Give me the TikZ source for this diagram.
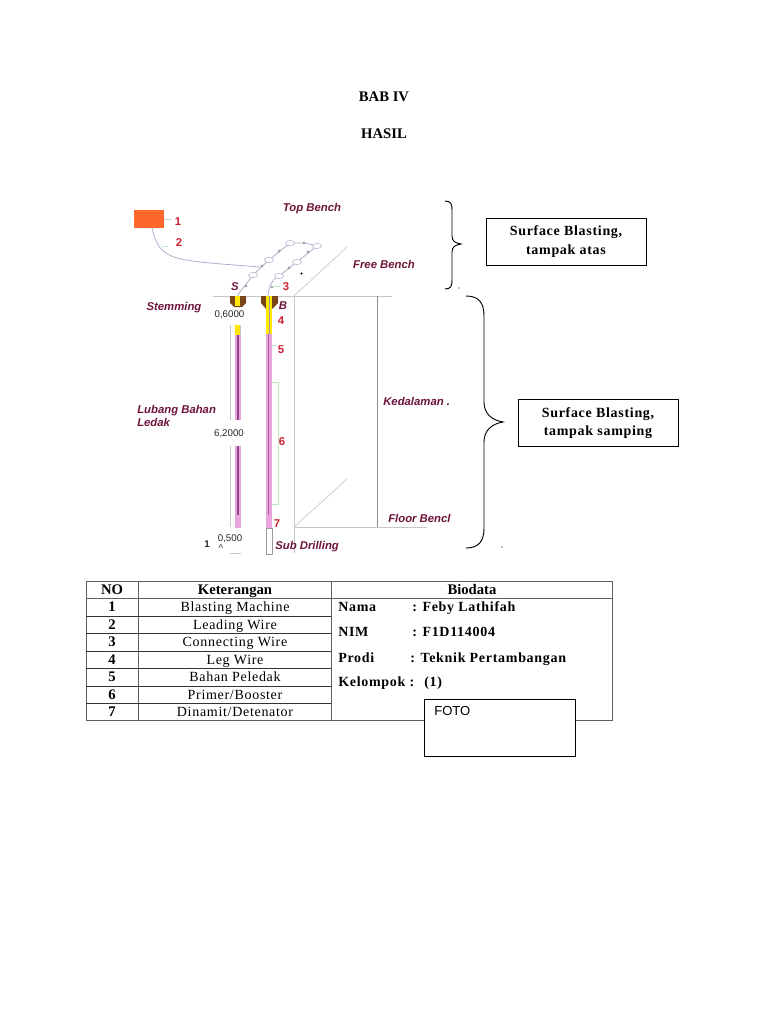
\documentclass[tikz,border=0pt]{standalone}
\usepackage{fontspec}
\setmainfont{Liberation Serif}
\setsansfont{Liberation Sans}
\newfontfamily\tblfont[LetterSpace=5]{Liberation Serif}
\usetikzlibrary{positioning}
\definecolor{maroon}{RGB}{110,20,60}
\definecolor{numred}{RGB}{205,30,50}
\definecolor{blast}{RGB}{255,102,43}
\definecolor{rock}{RGB}{120,70,25}
\definecolor{expl}{RGB}{232,165,222}
\definecolor{core}{RGB}{150,70,140}
\definecolor{wire}{RGB}{175,175,205}
\definecolor{leader}{RGB}{190,230,195}
\definecolor{rulegray}{RGB}{95,95,95}
\tikzstyle{title} = [font=\bfseries\fontsize{11}{12}\selectfont, text=black]
\tikzstyle{place} = [font=\sffamily\bfseries\itshape\fontsize{8.5}{10}\selectfont, text=maroon, align=left, yshift=-1.2pt]
\tikzstyle{num} = [font=\sffamily\bfseries\fontsize{8.5}{9}\selectfont, text=numred, inner sep=0pt, yshift=-0.7pt]
\tikzstyle{dim} = [font=\sffamily\fontsize{7.3}{8}\selectfont, text=black!85, inner sep=1pt, yshift=-0.7pt]
\tikzstyle{view} = [draw=black, fill=white, minimum width=120pt, minimum height=35pt, align=center, font=\tblfont\bfseries\fontsize{10.5}{14}\selectfont]
\tikzstyle{cell} = [font=\tblfont\fontsize{10.5}{12}\selectfont, inner sep=0pt, text height=7pt, text depth=2pt]
\tikzstyle{nocell} = [font=\bfseries\fontsize{11}{12}\selectfont, inner sep=0pt, text height=7pt, text depth=2pt]
\tikzstyle{bio} = [font=\tblfont\bfseries\fontsize{10.5}{12}\selectfont, inner sep=0pt, anchor=west, text height=7pt, text depth=2pt]
\tikzstyle{wireline} = [draw=wire, line width=0.6pt]
\tikzstyle{bench} = [draw=black!22, line width=0.5pt]
\tikzstyle{brace} = [draw=black, line width=0.7pt]
\begin{document}
\begin{tikzpicture}[x=0.75pt, y=-0.75pt, node distance=13.1pt]
\useasboundingbox (0,0) rectangle (768,1024);
% headings
\node (bab) [title] at (384,96.5) {BAB IV};
\node (hasil) [title] at (384,133.5) {HASIL};
% blasting machine and wires
\node (machine) [fill=blast, minimum width=22.5pt, minimum height=13.5pt, inner sep=0pt] at (149,219) {};
\coordinate (wa) at (152,228);
\coordinate (wb) at (260,267);
\draw[wireline] (wa) .. controls (160,262) and (172,260) .. (wb);
\coordinate (sa) at (237,296);
\coordinate (sb) at (290,243);
\coordinate (sc) at (317,246);
\coordinate (sd) at (268,296);
\draw[wireline] (sa) -- (253,275) -- (269,260) -- (sb) -- (305,243) -- (sc) -- (297,262) -- (279,276) .. controls (271,280) and (269,287) .. (sd);
\foreach \name/\px/\py in {e1/253/275, e2/269/260, e3/290/243, e4/317/246, e5/297/262, e6/279/276}
	\draw[wire, fill=white, line width=0.4pt] (\px,\py) ellipse (3.4pt and 1.9pt);
\foreach \name/\px/\py in {d1/246/286, d2/262/266, d3/279/251, d4/304/243, d5/308/252, d6/289/268, d7/272/287}
	\fill[black!35] (\px,\py) circle (1.2pt);
\fill[black] (301.5,273.5) circle (0.8pt);
% bench
\coordinate (b1) at (213,296);
\coordinate (b2) at (392,296);
\coordinate (b3) at (294,296);
\coordinate (b4) at (347,247);
\coordinate (b5) at (294,553);
\coordinate (b6) at (377,296);
\coordinate (b7) at (377,527);
\coordinate (b8) at (294,527);
\coordinate (b9) at (427,527);
\coordinate (b10) at (347,479);
\draw[bench] (b1) -- (b2);
\draw[bench] (b3) -- (b4);
\draw[bench] (b3) -- (b5);
\draw[bench, draw=black!45] (b6) -- (b7);
\draw[bench] (b8) -- (b9);
\draw[bench] (b8) -- (b10);
% left hole
\draw[bench] (230,325) -- (230,527);
\draw[bench] (240.5,325) -- (240.5,527);
\draw[bench] (230,553) -- (241,553);
\fill[rock] (230,296) -- (246,296) -- (246,303) -- (242,307) -- (234,307) -- (230,303) -- cycle;
\fill[yellow!90!orange] (235,296) rectangle (240,306);
\fill[yellow!90!orange] (235,325) rectangle (240,335);
\fill[expl] (234.5,335) rectangle (240.5,528);
\fill[core] (236.5,335) rectangle (238.5,515);
\fill[white] (215,420) rectangle (245,446);
% right hole
\fill[rock] (261,296) -- (278,296) -- (278,303) -- (272,309) -- (266,309) -- (261,303) -- cycle;
\fill[yellow!90!orange] (266,296) rectangle (272,334);
\draw[black!40, line width=0.3pt] (269,296) -- (269,334);
\fill[expl] (266,334) rectangle (272,528);
\fill[core!70!expl] (268.2,334) rectangle (269.4,515);
\draw[black!40, line width=0.4pt] (266,528) rectangle (272,554);
% leaders
\draw[leader, line width=0.5pt] (164,219) -- (172,219);
\draw[leader, line width=0.5pt] (162,246) -- (168,246);
\draw[leader, line width=0.5pt] (272,286) -- (280,286);
\draw[leader, line width=0.5pt] (272,345) -- (277,345);
\draw[leader, line width=0.5pt] (272,382) -- (278,382) -- (278,504) -- (272,504);
% labels
\node (topb) [place] at (312,207) {Top Bench};
\node (freeb) [place] at (384,263) {Free Bench};
\node (stem) [place] at (174,306) {Stemming};
\node (lubang) [place, anchor=west, inner sep=0pt] at (137,414.5) {Lubang Bahan\\Ledak};
\node (kedal) [place, anchor=west, inner sep=0pt] at (383,400) {Kedalaman .};
\node (floorb) [place, anchor=west, inner sep=0pt] at (388,517) {Floor Bencl};
\node (subd) [place, anchor=west, inner sep=0pt] at (275,545) {Sub Drilling};
\node (ls) [place, inner sep=0pt] at (235,285) {S};
\node (lb) [place, inner sep=0pt] at (283,304) {B};
\node (n1) [num] at (178,221) {1};
\node (n2) [num] at (179,242) {2};
\node (n3) [num] at (286,286) {3};
\node (n4) [num] at (281,320) {4};
\node (n5) [num] at (281,349) {5};
\node (n6) [num] at (282,441) {6};
\node (n7) [num] at (277,523) {7};
\node (d06) [dim] at (229.5,314) {0,6000};
\node (d62) [dim] at (229,433) {6,2000};
\node (d05) [dim] at (230,538) {0,500};
\node (done) [dim] at (207,543) {\bfseries 1};
\node (dhat) [dim] at (221,547) {\textasciicircum};
% braces
\draw[brace] (445,201) .. controls (451,201) and (452,204) .. (452,210) -- (452,236) .. controls (452,241) and (455,243) .. (461,244) .. controls (455,245) and (452,247) .. (452,252) -- (452,280) .. controls (452,286) and (451,289) .. (445,289);
\fill[black] (459,288) circle (0.5pt);
\draw[brace] (466,296) .. controls (479,296) and (484,303) .. (484,316) -- (484,402) .. controls (484,413) and (491,420) .. (503,422) .. controls (491,424) and (484,431) .. (484,442) -- (484,528) .. controls (484,541) and (479,548) .. (466,548);
\fill[black] (502,547) circle (0.5pt);
\node (atas) [view] at (566,241.5) {\raisebox{-1pt}{Surface Blasting,}\\\raisebox{-1pt}{tampak atas}};
\node (samping) [view] at (598,423) {\raisebox{-1pt}{Surface Blasting,}\\\raisebox{-1pt}{tampak samping}};
% table text
\node (h0) [nocell] at (112,591) {NO};
\node (h1) [nocell, below of=h0] {1};
\node (h2) [nocell, below of=h1] {2};
\node (h3) [nocell, below of=h2] {3};
\node (h4) [nocell, below of=h3] {4};
\node (h5) [nocell, below of=h4] {5};
\node (h6) [nocell, below of=h5] {6};
\node (h7) [nocell, below of=h6] {7};
\node (k0) [nocell] at (235,591) {Keterangan};
\node (k1) [cell, below of=k0] {Blasting Machine};
\node (k2) [cell, below of=k1] {Leading Wire};
\node (k3) [cell, below of=k2] {Connecting Wire};
\node (k4) [cell, below of=k3] {Leg Wire};
\node (k5) [cell, below of=k4] {Bahan Peledak};
\node (k6) [cell, below of=k5] {Primer/Booster};
\node (k7) [cell, below of=k6] {Dinamit/Detenator};
\node (biodata) [nocell] at (472,591) {Biodata};
\node (nama) [bio] at (338,608) {Nama};
\node (namav) [bio] at (412,608) {: Feby Lathifah};
\node (nim) [bio] at (338,633) {NIM};
\node (nimv) [bio] at (412,633) {: F1D114004};
\node (prodi) [bio] at (338,659) {Prodi};
\node (prodiv) [bio] at (410,659) {: Teknik Pertambangan};
\node (kel) [bio] at (338,683) {Kelompok :};
\node (kelv) [bio] at (424,683) {(1)};
% table rules
\coordinate (t1) at (86,581);
\coordinate (t2) at (612,720);
\draw[rulegray, line width=0.6pt] (t1) rectangle (t2);
\draw[rulegray, line width=0.6pt] (138,581) -- (138,720);
\draw[rulegray, line width=0.6pt] (331,581) -- (331,720);
\draw[rulegray, line width=0.6pt] (86,598) -- (612,598);
\foreach \ry in {616,633,651,668,686,703}
	\draw[black!80, line width=0.6pt] (86,\ry) -- (331,\ry);
% photo box
\node (foto) [draw=black, fill=white, minimum width=113pt, minimum height=42.7pt, inner sep=0pt] at (499.5,727.5) {};
\node (fotot) [font=\sffamily\fontsize{9.8}{11}\selectfont, inner sep=0pt, anchor=west] at (434,710.5) {FOTO};
\end{tikzpicture}
\end{document}
